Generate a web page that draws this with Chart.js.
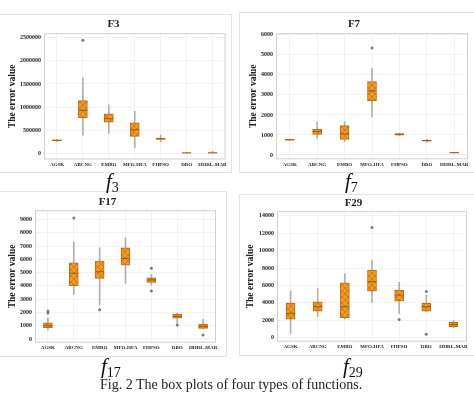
<!DOCTYPE html>
<html>
<head>
<meta charset="utf-8">
<script src="https://cdn.jsdelivr.net/npm/chart.js@4.4.0/dist/chart.umd.min.js"></script>
<style>
  body { margin: 0; width: 474px; height: 395px; overflow: hidden; background: #fff; position: relative; font-family: "Liberation Serif", serif; }
  .panel { position: absolute; border: 1px solid #e4e4e4; box-sizing: border-box; }
  .panel canvas { position: absolute; left: 0; top: 0; }
  .fn { position: absolute; font-style: italic; font-size: 21px; color: #111; line-height: 1; white-space: nowrap; }
  .fn sub { font-style: normal; font-size: 14px; vertical-align: -4px; }
  #caption { position: absolute; left: 100px; top: 378px; font-size: 14px; color: #222; white-space: nowrap; line-height: 1; }
</style>
</head>
<body>
<div class="panel" style="left:-2px;top:14px;width:234px;height:159px"><canvas id="c3" width="232" height="157"></canvas></div>
<div class="panel" style="left:239px;top:12px;width:236px;height:161px"><canvas id="c7" width="234" height="159"></canvas></div>
<div class="panel" style="left:-2px;top:191px;width:229px;height:166px"><canvas id="c17" width="227" height="164"></canvas></div>
<div class="panel" style="left:239px;top:194px;width:236px;height:162px"><canvas id="c29" width="234" height="160"></canvas></div>

<div class="fn" style="left:106px;top:171px">f<sub>3</sub></div>
<div class="fn" style="left:345px;top:171px">f<sub>7</sub></div>
<div class="fn" style="left:101px;top:356px">f<sub>17</sub></div>
<div class="fn" style="left:343px;top:356px">f<sub>29</sub></div>
<div id="caption">Fig. 2 The box plots of four types of functions.</div>

<script>
// Algorithms
const ALGOS = ['AGSK', 'ABCNG', 'EMBO', 'MFO-HFA', 'FHPSO', 'DBO', 'HHRL-MAR'];

// F3 statistics
const F3_TICKS = [0, 500000, 1000000, 1500000, 2000000, 2500000];
const F3_LOW  = [255000, 390000, 430000, 120000, 245000, 2000, 0];
const F3_Q1   = [270000, 770000, 675000, 365000, 300000, 5000, 6000];
const F3_MED  = [280000, 930000, 750000, 510000, 315000, 8000, 9000];
const F3_Q3   = [290000, 1140000, 855000, 660000, 330000, 10000, 12000];
const F3_HIGH = [300000, 1630000, 1050000, 910000, 400000, 15000, 40000];
const F3_OUT  = [['ABCNG', 2450000]];

// F7 statistics
const F7_TICKS = [0, 1000, 2000, 3000, 4000, 5000, 6000];
const F7_LOW  = [720, 830, 670, 1920, 960, 650, 100];
const F7_Q1   = [740, 1030, 780, 2720, 990, 690, 105];
const F7_MED  = [760, 1170, 1050, 3200, 1030, 720, 115];
const F7_Q3   = [780, 1280, 1470, 3670, 1070, 750, 125];
const F7_HIGH = [800, 1650, 1670, 4330, 1100, 780, 130];
const F7_OUT  = [['MFO-HFA', 5350]];

// F17 statistics
const F17_TICKS = [0, 1000, 2000, 3000, 4000, 5000, 6000, 7000, 8000, 9000];
const F17_LOW  = [680, 3360, 2550, 4190, 4060, 1200, 750];
const F17_Q1   = [850, 3990, 4560, 5560, 4260, 1560, 800];
const F17_MED  = [1000, 4950, 5060, 6070, 4450, 1700, 950];
const F17_Q3   = [1220, 5740, 5870, 6870, 4610, 1860, 1130];
const F17_HIGH = [1600, 7320, 6870, 7620, 4870, 1950, 1480];
const F17_OUT  = [['AGSK', 1950], ['AGSK', 2100], ['ABCNG', 9120], ['EMBO', 2200],
                  ['FHPSO', 5320], ['FHPSO', 3610], ['DBO', 1050], ['HHRL-MAR', 300]];

// F29 statistics
const F29_TICKS = [0, 2000, 4000, 6000, 8000, 10000, 12000, 14000];
const F29_LOW  = [500, 2410, 2140, 4060, 2800, 3000, 1150];
const F29_Q1   = [2140, 3060, 2300, 5360, 4210, 3060, 1260];
const F29_MED  = [2800, 3560, 3560, 6430, 4900, 3560, 1500];
const F29_Q3   = [3980, 4130, 6310, 7770, 5470, 3950, 1770];
const F29_HIGH = [5350, 5660, 7380, 8910, 6350, 4900, 2000];
const F29_OUT  = [['MFO-HFA', 12660], ['FHPSO', 2100], ['DBO', 5300], ['DBO', 390]];

const SERIF = '"Liberation Serif", "Times New Roman", serif';

// crosshatched orange fill
function hatch() {
    const c = document.createElement('canvas');
    c.width = c.height = 6;
    const g = c.getContext('2d');
    g.fillStyle = '#f09a22';
    g.fillRect(0, 0, 6, 6);
    g.strokeStyle = '#cc7410';
    g.lineWidth = 0.8;
    g.beginPath();
    g.moveTo(0, 0); g.lineTo(6, 6);
    g.moveTo(6, 0); g.lineTo(0, 6);
    g.stroke();
    return g.createPattern(c, 'repeat');
}

// plot-area frame
const frame = {
    id: 'frame',
    beforeDatasetsDraw(chart) {
        const a = chart.chartArea, ctx = chart.ctx;
        ctx.save();
        ctx.strokeStyle = '#d0d0d0';
        ctx.lineWidth = 1;
        ctx.strokeRect(a.left + 0.5, a.top + 0.5, a.width - 1, a.height - 1);
        ctx.restore();
    }
};

function boxChart(id, cfg) {
    const { title, ticks, low, q1, med, q3, high, out, min, max, yWidth, xHeight, padRight, titlePad, yTitlePad } = cfg;
    new Chart(document.getElementById(id), {
        type: 'bar',
        data: {
            labels: ALGOS,
            datasets: [
                {
                    label: 'whisker',
                    data: ALGOS.map((_, i) => [low[i], high[i]]),
                    backgroundColor: '#b0b0b0',
                    barThickness: 1,
                    grouped: false,
                    order: 3
                },
                {
                    label: 'box',
                    data: ALGOS.map((_, i) => [q1[i], q3[i]]),
                    backgroundColor: hatch(),
                    borderColor: '#b86e16',
                    borderWidth: 1,
                    borderSkipped: false,
                    barThickness: 9,
                    grouped: false,
                    order: 2
                },
                {
                    type: 'line',
                    label: 'median',
                    data: med,
                    showLine: false,
                    pointStyle: 'line',
                    pointRadius: 4.5,
                    borderColor: '#9c5a0e',
                    borderWidth: 1,
                    order: 1
                },
                {
                    type: 'line',
                    label: 'outlier',
                    data: out.map(o => ({ x: o[0], y: o[1] })),
                    showLine: false,
                    pointStyle: 'circle',
                    pointRadius: 1.5,
                    backgroundColor: '#7a7a7a',
                    borderColor: '#7a7a7a',
                    borderWidth: 0,
                    order: 0
                }
            ]
        },
        options: {
            responsive: false,
            animation: false,
            layout: { padding: { left: 0, right: padRight, top: 0, bottom: 0 } },
            plugins: {
                legend: { display: false },
                tooltip: { enabled: false },
                title: {
                    display: true,
                    text: title,
                    color: '#222',
                    font: { family: SERIF, size: 11, weight: 'bold' },
                    padding: titlePad
                }
            },
            scales: {
                x: {
                    type: 'category',
                    offset: true,
                    grid: { color: '#f2f2f2', offset: false, drawTicks: false },
                    border: { display: false },
                    ticks: {
                        color: '#222',
                        font: { family: SERIF, size: 5, weight: 'bold' },
                        maxRotation: 0,
                        autoSkip: false,
                        padding: 2
                    },
                    afterFit: s => { s.height = xHeight; }
                },
                y: {
                    min: min,
                    max: max,
                    grid: { color: '#f2f2f2', drawTicks: false },
                    border: { display: false },
                    ticks: {
                        color: '#222',
                        font: { family: SERIF, size: 6, weight: 'bold' },
                        padding: 3,
                        callback: v => String(v)
                    },
                    afterBuildTicks: s => { s.ticks = ticks.map(v => ({ value: v })); },
                    title: {
                        display: true,
                        text: 'The error value',
                        color: '#222',
                        font: { family: SERIF, size: 9.5, weight: 'bold' },
                        padding: { top: yTitlePad, bottom: 0 }
                    },
                    afterFit: s => { s.width = yWidth; }
                }
            }
        },
        plugins: [frame]
    });
}

boxChart('c3', {
    title: 'F3', ticks: F3_TICKS, low: F3_LOW, q1: F3_Q1, med: F3_MED, q3: F3_Q3, high: F3_HIGH, out: F3_OUT,
    min: -135000, max: 2600000,
    yWidth: 45, xHeight: 12.5, padRight: 3, titlePad: { top: 3, bottom: 2 }, yTitlePad: 8
});
boxChart('c7', {
    title: 'F7', ticks: F7_TICKS, low: F7_LOW, q1: F7_Q1, med: F7_MED, q3: F7_Q3, high: F7_HIGH, out: F7_OUT,
    min: -215, max: 6085,
    yWidth: 36, xHeight: 12.7, padRight: 6, titlePad: { top: 5, bottom: 2 }, yTitlePad: 8
});
boxChart('c17', {
    title: 'F17', ticks: F17_TICKS, low: F17_LOW, q1: F17_Q1, med: F17_MED, q3: F17_Q3, high: F17_HIGH, out: F17_OUT,
    min: -280, max: 9700,
    yWidth: 36, xHeight: 13.3, padRight: 10, titlePad: { top: 4, bottom: 1 }, yTitlePad: 8
});
boxChart('c29', {
    title: 'F29', ticks: F29_TICKS, low: F29_LOW, q1: F29_Q1, med: F29_MED, q3: F29_Q3, high: F29_HIGH, out: F29_OUT,
    min: -460, max: 14540,
    yWidth: 37, xHeight: 13.3, padRight: 7, titlePad: { top: 2, bottom: 1 }, yTitlePad: 4.6
});
</script>
</body>
</html>
